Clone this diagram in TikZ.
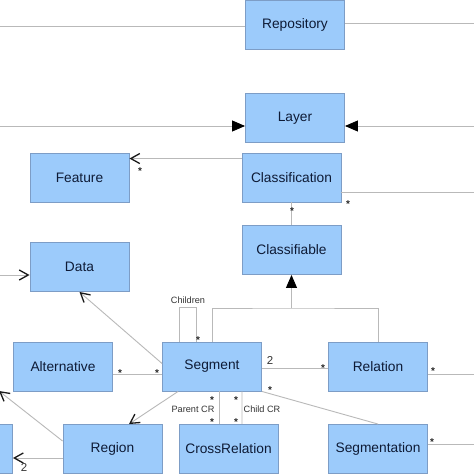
\documentclass[tikz,border=0pt]{standalone}
\usepackage{fontspec}
\setmainfont{Liberation Sans}
\usetikzlibrary{arrows.meta,calc}
\definecolor{boxfill}{HTML}{9CCBFB}
\definecolor{boxline}{HTML}{7D9DC6}
\definecolor{boxtext}{HTML}{0E1B36}
\definecolor{conn}{HTML}{B9B9B9}
\tikzset{
  cls/.style={draw=boxline, fill=boxfill, line width=0.9bp, minimum width=99bp, minimum height=49bp,
    inner sep=0pt, text=boxtext, font=\fontsize{13.8}{15}\selectfont},
  conline/.style={draw=conn, line width=0.9bp},
  openarr/.style={conline, -{Straight Barb[length=9bp,width=10bp,line width=1.3bp,color=black!90]}},
  fillarr/.style={conline, -{Triangle[length=13bp,width=11bp,color=black]}},
  lbl/.style={font=\fontsize{9.2}{10}\selectfont, text=black!80, inner sep=0pt},
  star/.style={font=\bfseries\fontsize{10}{10}\selectfont, text=black!85, inner sep=0pt}
}
\begin{document}
\begin{tikzpicture}[x=1bp,y=-1bp]
\clip (0,0) rectangle (474,474);
\fill[white] (0,0) rectangle (474,474);
% boxes
\node[cls] (repo) at (295,25) {Repository};
\node[cls] (layer) at (295,118) {Layer};
\node[cls] (feat) at (79.5,177.5) {Feature};
\node[cls] (class) at (291.5,177.5) {Classification};
\node[cls] (clfb) at (291.5,250) {Classifiable};
\node[cls] (data) at (79.5,267) {Data};
\node[cls] (alt) at (63,366.5) {Alternative};
\node[cls] (seg) at (212,366.5) {Segment};
\node[cls] (rel) at (378,366.5) {Relation};
\node[cls] (reg) at (112.5,449) {Region};
\node[cls] (cross) at (228.5,449) {CrossRelation};
\node[cls] (segm) at (378,449) {Segmentation};
\node[cls] (lbox) at (-37,449) {};
% free ends
\coordinate (repoL) at (0,26);
\coordinate (repoR) at (474,23);
\coordinate (layL) at (0,126);
\coordinate (layR) at (474,126);
\coordinate (clsR) at (474,192);
\coordinate (dataL) at (0,275);
\coordinate (relR) at (474,374);
\coordinate (segmR) at (474,444);
\coordinate (regUL) at (-1,391);
\coordinate (jn) at (291.5,308);
% connectors
\draw[conline] (repoL) -- (repo.west |- repoL);
\draw[conline] (repo.east |- repoR) -- (repoR);
\draw[fillarr] (layL) -- (layer.west |- layL);
\draw[fillarr] (layR) -- (layer.east |- layR);
\draw[openarr] ($(class.north west)+(0,6)$) -- ($(feat.north east)+(0,6)$);
\draw[conline] (class.east |- clsR) -- (clsR);
\draw[conline] (class.south) -- (clfb.north);
\draw[conline] (seg.north) |- (jn) -| (rel.north);
\draw[fillarr] (jn) -- (clfb.south);
\draw[conline] ($(seg.north west)+(17,0)$) -- ++(0,-34) -| ($(seg.north west)+(34,0)$);
\draw[openarr] ($(seg.west)+(0,-3)$) -- (data.south);
\draw[openarr] (dataL) -- (data.west |- dataL);
\draw[conline] ($(alt.east)+(0,7.5)$) -- ($(seg.west)+(0,7.5)$);
\draw[conline] ($(seg.east)+(0,1.5)$) -- ($(rel.west)+(0,1.5)$);
\draw[conline] (rel.east |- relR) -- (relR);
\draw[openarr] ($(seg.south west)+(16,0)$) -- ($(reg.north)+(16.5,0)$);
\draw[conline] ($(seg.south)+(7,0)$) -- ($(cross.north)+(-9.5,0)$);
\draw[conline] ($(seg.south)+(30,0)$) -- ($(cross.north)+(13.5,0)$);
\draw[conline] (seg.south east) -- (segm.north);
\draw[conline] (segm.east |- segmR) -- (segmR);
\draw[openarr] ($(reg.west)+(0,9)$) -- ($(lbox.east)+(0,9)$);
\draw[openarr] ($(reg.west)+(0,-8)$) -- (regUL);
% labels
\node[lbl] (lchild) at (188,300) {Children};
\node[lbl] (lpcr) at (193,409) {Parent CR};
\node[lbl] (lccr) at (262,409) {Child CR};
\node[star] (s1) at (140,171) {*};
\node[star] (s2) at (348,204) {*};
\node[star] (s3) at (292,211) {*};
\node[star] (s4) at (198,340) {*};
\node[star] (s5) at (120,373) {*};
\node[star] (s6) at (157,373) {*};
\node[star] (s7) at (323,368) {*};
\node[star] (s8) at (433,371) {*};
\node[star] (s9) at (270,390) {*};
\node[star] (s10) at (212,400) {*};
\node[star] (s11) at (212,422) {*};
\node[star] (s12) at (236,400) {*};
\node[star] (s13) at (236,422) {*};
\node[star] (s14) at (432,442) {*};
\node[lbl, font=\fontsize{11.5}{12}\selectfont] (n2a) at (270,360) {2};
\node[lbl, font=\fontsize{11.5}{12}\selectfont] (n2b) at (24,467) {2};
\end{tikzpicture}
\end{document}
